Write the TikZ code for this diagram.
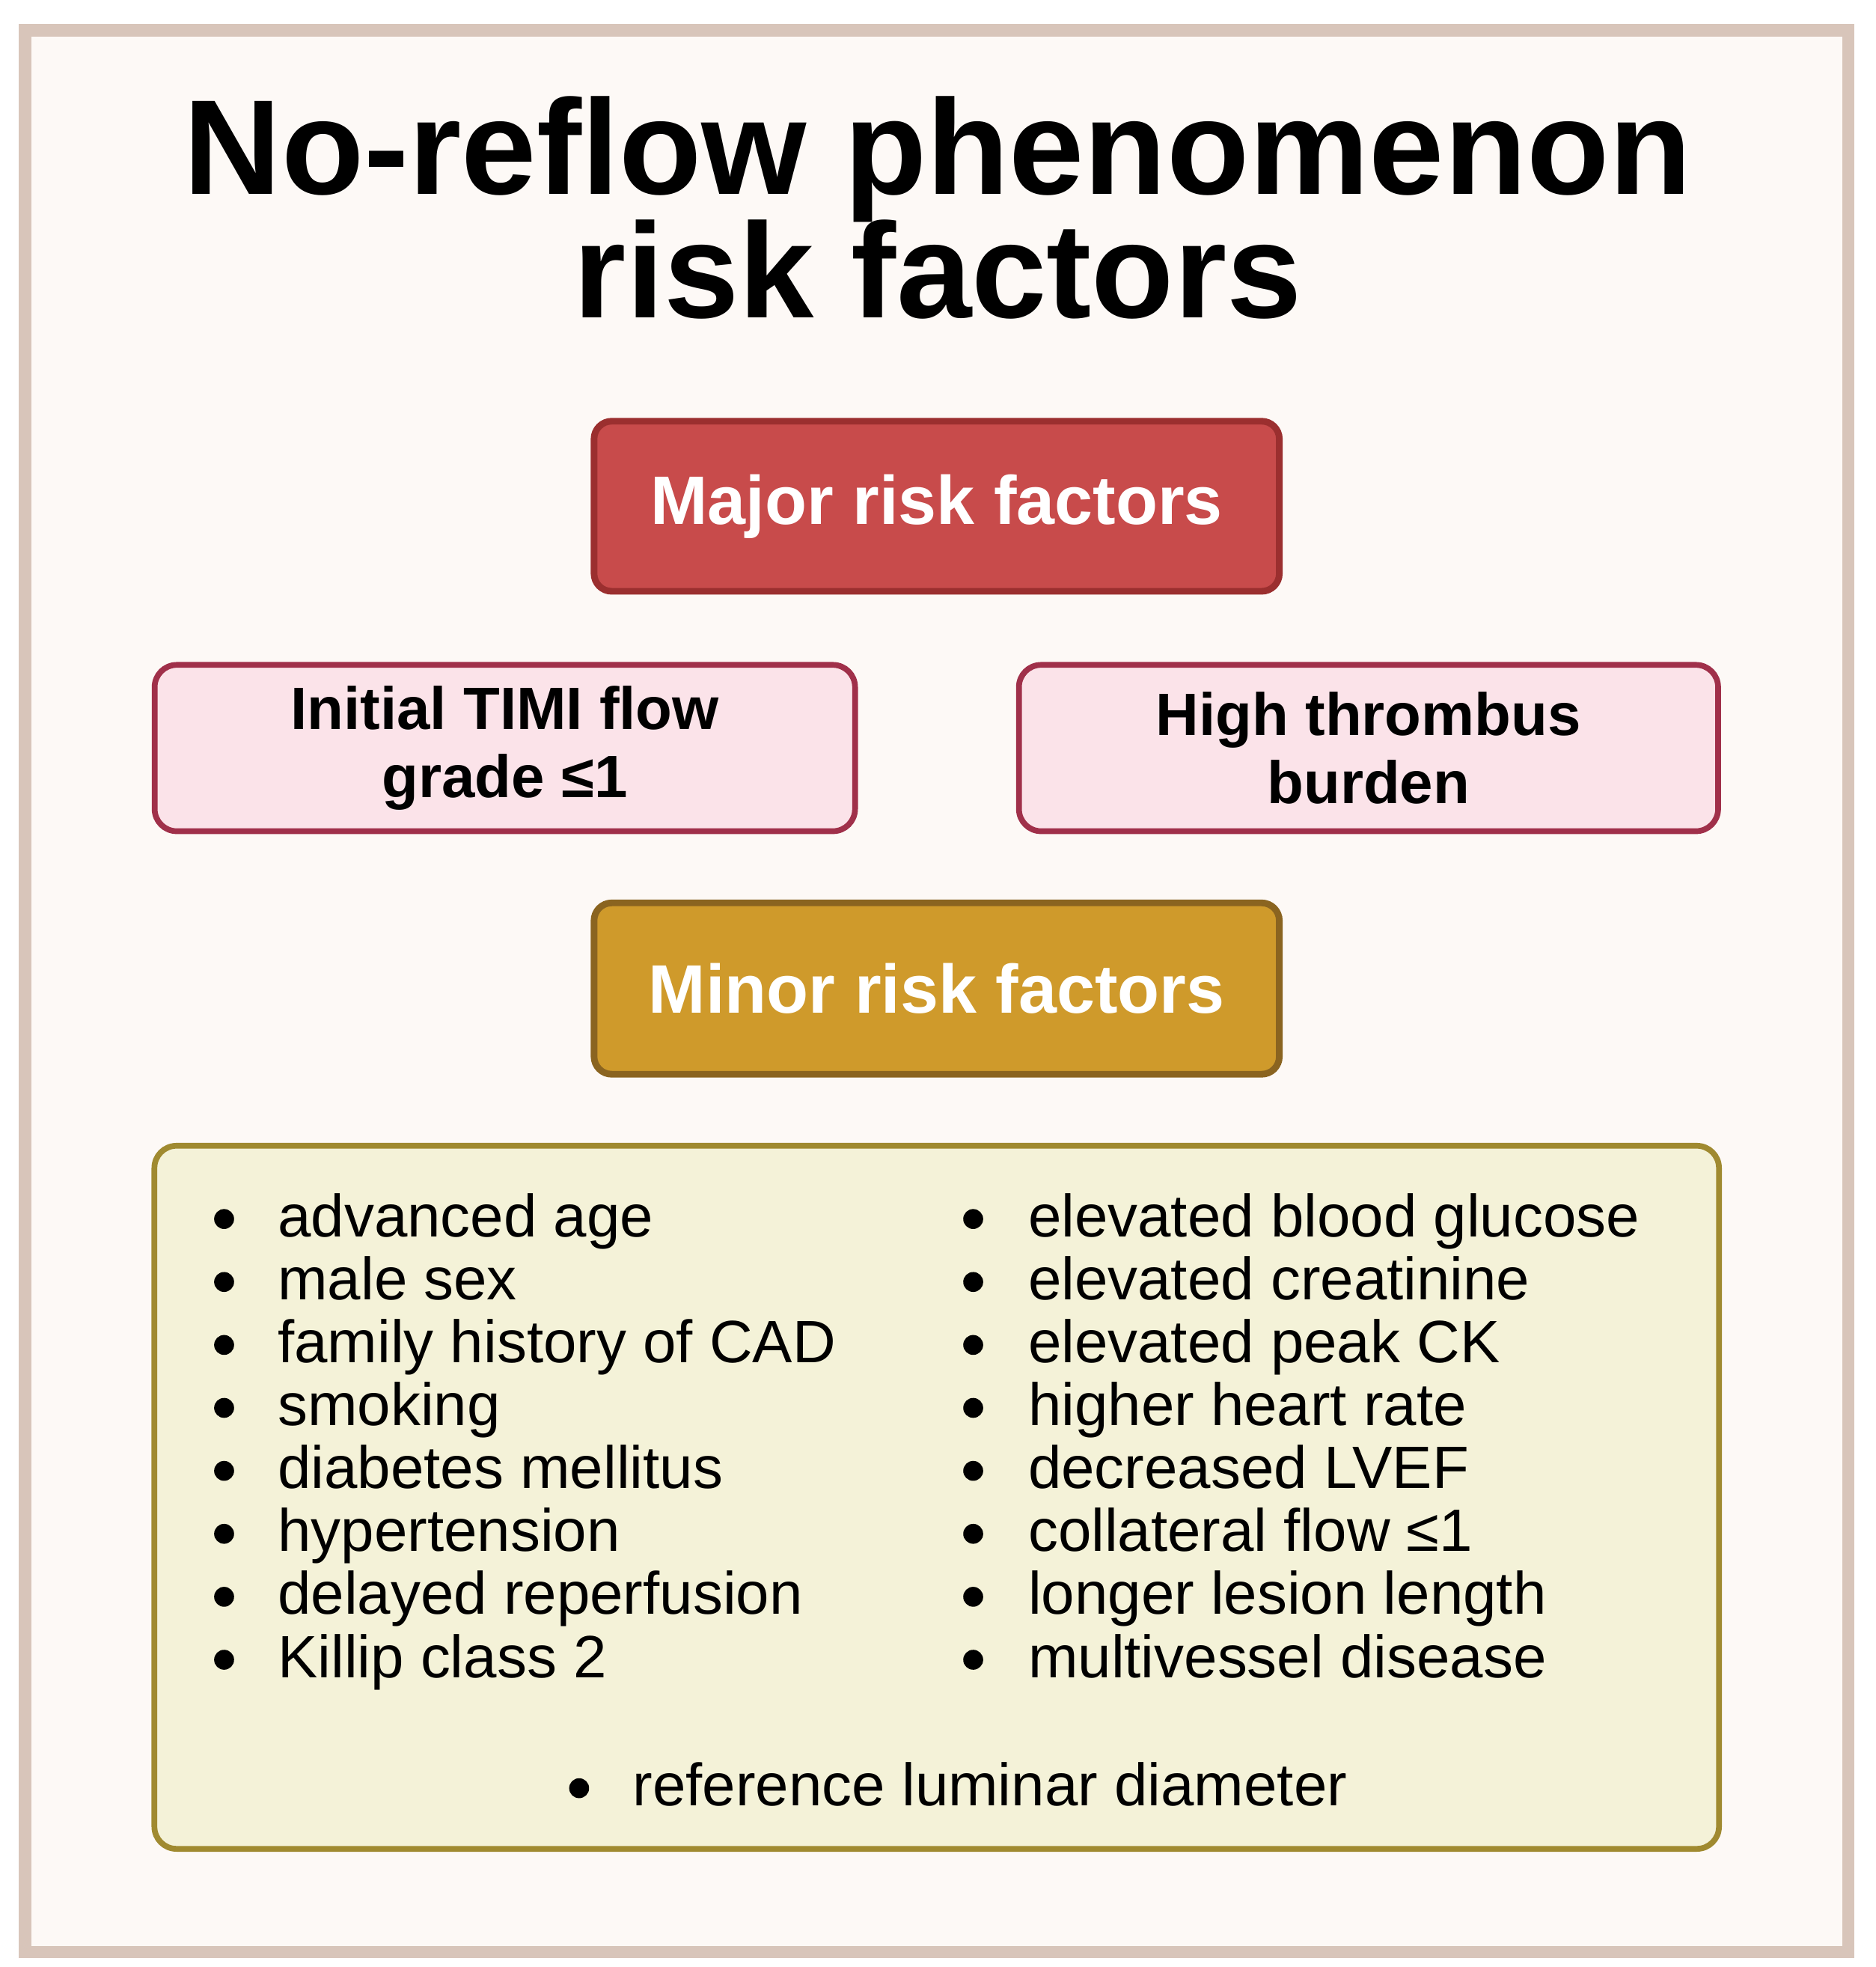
\documentclass[tikz,border=0pt]{standalone}
\usepackage{fontspec}
\setmainfont{Liberation Sans}
\begin{document}
\begin{tikzpicture}[x=0.01cm,y=-0.01cm,
  hdr/.style={draw, line width=1.5pt, rounded corners=4pt, font=\bfseries\fontsize{15.5}{18}\selectfont, text=white, align=center},
  sub/.style={line width=1.3pt, rounded corners=5pt, font=\bfseries\fontsize{13.5}{15.5}\selectfont, align=center},
  item/.style={anchor=base west, font=\fontsize{13.5}{16}\selectfont, inner sep=0pt},
  dot/.style={circle, fill=black, inner sep=0pt, minimum size=4.5pt}]
\definecolor{bg}{HTML}{FDF9F6}
\definecolor{frame}{HTML}{D8C5BA}
\definecolor{major}{HTML}{C84B4B}
\definecolor{majorb}{HTML}{9B2F2F}
\definecolor{minor}{HTML}{CF9A2B}
\definecolor{minorb}{HTML}{8A6420}
\definecolor{subf}{HTML}{FBE3E9}
\definecolor{subb}{HTML}{A0304A}
\definecolor{listf}{HTML}{F4F2D8}
\definecolor{listb}{HTML}{A08A30}
\useasboundingbox (0,0) rectangle (1490,1562);
\fill[white] (0,0) rectangle (1490,1562);
\draw[draw=frame, fill=bg, line width=2.8pt] (20,24) rectangle (1468,1550);
\node[font=\bfseries\fontsize{30.5}{32}\selectfont, align=center] (title) at (745,165) {No-reflow phenomenon\\[-4pt]risk factors};
\node[hdr, fill=major, draw=majorb, minimum width=5.44cm, minimum height=1.35cm] (major) at (744,402) {Major risk factors};
\node[sub, draw=subb, fill=subf, minimum width=5.56cm, minimum height=1.32cm] (timi) at (401,594) {Initial TIMI flow\\grade ≤1};
\node[sub, draw=subb, fill=subf, minimum width=5.55cm, minimum height=1.32cm] (thr) at (1087,594) {High thrombus\\burden};
\node[hdr, fill=minor, draw=minorb, minimum width=5.44cm, minimum height=1.36cm] (minor) at (744,785) {Minor risk factors};
\node[draw=listb, fill=listf, line width=1.3pt, rounded corners=5pt, minimum width=12.42cm, minimum height=5.58cm] (list) at (744,1189) {};
\foreach \t [count=\i] in {advanced age, male sex, family history of CAD, smoking, diabetes mellitus, hypertension, delayed reperfusion, Killip class 2}{
  \node[dot] (ld\i) at (178,{918+50*\i}) {};
  \node[item] (lt\i) at (220,{932+50*\i}) {\t};
}
\foreach \t [count=\i] in {elevated blood glucose, elevated creatinine, elevated peak CK, higher heart rate, decreased LVEF, collateral flow ≤1, longer lesion length, multivessel disease}{
  \node[dot] (rd\i) at (773,{918+50*\i}) {};
  \node[item] (rt\i) at (816,{932+50*\i}) {\t};
}
\node[dot] (bd) at (460,1420) {};
\node[item] (bt) at (502,1434) {reference luminar diameter};
\end{tikzpicture}
\end{document}
